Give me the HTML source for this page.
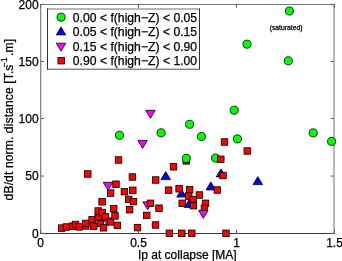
<!DOCTYPE html>
<html><head><meta charset="utf-8"><style>
html,body{margin:0;padding:0;background:#fff;}
svg{display:block;font-family:"Liberation Sans",Arial,sans-serif;}
text{stroke:#000;stroke-width:0.25px;}
</style></head><body>
<svg width="342" height="261" viewBox="0 0 342 261">
<rect width="342" height="261" fill="#fff"/>
<g fill="none" stroke="#606060" stroke-width="1">
<path d="M40 4.5H335" stroke="#777"/><path d="M40 233.5H335" stroke="#3a3a3a"/><path d="M40.75 4V234" stroke="#606060"/><path d="M334.0 4V234" stroke="#777"/>
<path d="M40.50 233.5v-3.6M40.50 4.5v3.4" /><path d="M138.50 233.5v-3.6M138.50 4.5v3.4" /><path d="M236.50 233.5v-3.6M236.50 4.5v3.4" /><path d="M334.50 233.5v-3.6M334.50 4.5v3.4" /><path d="M40.75 233.30h3.2M334.0 233.30h-3.2" /><path d="M40.75 176.10h3.2M334.0 176.10h-3.2" /><path d="M40.75 118.50h3.2M334.0 118.50h-3.2" /><path d="M40.75 61.50h3.2M334.0 61.50h-3.2" /><path d="M40.75 4.40h3.2M334.0 4.40h-3.2" />
</g>
<g stroke="#000" stroke-width="0.8"><rect x="183.05" y="157.65" width="6.5" height="6.5" fill="#f00"/><circle cx="289.40" cy="11.00" r="4.05" fill="#0f0"/><circle cx="247.00" cy="44.20" r="4.05" fill="#0f0"/><circle cx="288.30" cy="60.80" r="4.05" fill="#0f0"/><circle cx="234.20" cy="110.20" r="4.05" fill="#0f0"/><circle cx="189.60" cy="124.30" r="4.05" fill="#0f0"/><circle cx="161.10" cy="132.80" r="4.05" fill="#0f0"/><circle cx="119.50" cy="135.30" r="4.05" fill="#0f0"/><circle cx="201.40" cy="136.50" r="4.05" fill="#0f0"/><circle cx="237.40" cy="138.90" r="4.05" fill="#0f0"/><circle cx="313.20" cy="132.90" r="4.05" fill="#0f0"/><circle cx="331.60" cy="141.40" r="4.05" fill="#0f0"/><circle cx="186.30" cy="158.40" r="4.05" fill="#0f0"/><circle cx="215.60" cy="158.00" r="4.05" fill="#0f0"/><path d="M221.00 168.90L225.75 176.90H216.25Z" fill="#00f"/><path d="M210.80 181.90L215.55 189.90H206.05Z" fill="#00f"/><path d="M165.70 171.60L170.45 179.60H160.95Z" fill="#00f"/><path d="M181.50 189.10L186.25 197.10H176.75Z" fill="#00f"/><path d="M189.10 199.40L193.85 207.40H184.35Z" fill="#00f"/><path d="M257.80 176.60L262.55 184.60H253.05Z" fill="#00f"/><path d="M150.50 118.30L155.25 110.30H145.75Z" fill="#f0f"/><path d="M142.60 148.40L147.35 140.40H137.85Z" fill="#f0f"/><path d="M108.00 190.30L112.75 182.30H103.25Z" fill="#f0f"/><path d="M147.60 209.80L152.35 201.80H142.85Z" fill="#f0f"/><path d="M107.60 225.90L112.35 217.90H102.85Z" fill="#f0f"/><rect x="58.45" y="224.85" width="6.5" height="6.5" fill="#f00"/><rect x="63.15" y="223.75" width="6.5" height="6.5" fill="#f00"/><rect x="69.25" y="222.95" width="6.5" height="6.5" fill="#f00"/><rect x="72.25" y="221.25" width="6.5" height="6.5" fill="#f00"/><rect x="76.05" y="223.65" width="6.5" height="6.5" fill="#f00"/><rect x="82.55" y="222.65" width="6.5" height="6.5" fill="#f00"/><rect x="82.55" y="220.15" width="6.5" height="6.5" fill="#f00"/><rect x="88.85" y="216.55" width="6.5" height="6.5" fill="#f00"/><rect x="90.45" y="222.95" width="6.5" height="6.5" fill="#f00"/><rect x="94.95" y="214.35" width="6.5" height="6.5" fill="#f00"/><rect x="94.95" y="207.75" width="6.5" height="6.5" fill="#f00"/><rect x="97.15" y="220.15" width="6.5" height="6.5" fill="#f00"/><rect x="98.85" y="198.55" width="6.5" height="6.5" fill="#f00"/><rect x="98.85" y="209.25" width="6.5" height="6.5" fill="#f00"/><rect x="100.25" y="224.55" width="6.5" height="6.5" fill="#f00"/><rect x="102.25" y="213.65" width="6.5" height="6.5" fill="#f00"/><rect x="107.35" y="189.85" width="6.5" height="6.5" fill="#f00"/><rect x="107.25" y="218.65" width="6.5" height="6.5" fill="#f00"/><rect x="110.45" y="205.45" width="6.5" height="6.5" fill="#f00"/><rect x="111.75" y="212.65" width="6.5" height="6.5" fill="#f00"/><rect x="114.15" y="222.15" width="6.5" height="6.5" fill="#f00"/><rect x="121.15" y="188.45" width="6.5" height="6.5" fill="#f00"/><rect x="129.55" y="187.05" width="6.5" height="6.5" fill="#f00"/><rect x="125.45" y="196.15" width="6.5" height="6.5" fill="#f00"/><rect x="130.25" y="198.35" width="6.5" height="6.5" fill="#f00"/><rect x="126.35" y="206.45" width="6.5" height="6.5" fill="#f00"/><rect x="134.25" y="224.35" width="6.5" height="6.5" fill="#f00"/><rect x="129.15" y="173.75" width="6.5" height="6.5" fill="#f00"/><rect x="112.75" y="180.95" width="6.5" height="6.5" fill="#f00"/><rect x="115.25" y="156.75" width="6.5" height="6.5" fill="#f00"/><rect x="84.55" y="170.75" width="6.5" height="6.5" fill="#f00"/><rect x="152.45" y="176.75" width="6.5" height="6.5" fill="#f00"/><rect x="165.35" y="186.95" width="6.5" height="6.5" fill="#f00"/><rect x="175.85" y="185.55" width="6.5" height="6.5" fill="#f00"/><rect x="147.25" y="200.05" width="6.5" height="6.5" fill="#f00"/><rect x="155.75" y="204.95" width="6.5" height="6.5" fill="#f00"/><rect x="143.45" y="212.15" width="6.5" height="6.5" fill="#f00"/><rect x="152.25" y="221.75" width="6.5" height="6.5" fill="#f00"/><rect x="166.15" y="230.05" width="6.5" height="6.5" fill="#f00"/><rect x="170.25" y="163.55" width="6.5" height="6.5" fill="#f00"/><rect x="178.55" y="230.05" width="6.5" height="6.5" fill="#f00"/><rect x="188.55" y="230.05" width="6.5" height="6.5" fill="#f00"/><rect x="222.75" y="230.05" width="6.5" height="6.5" fill="#f00"/><rect x="186.35" y="186.35" width="6.5" height="6.5" fill="#f00"/><rect x="185.45" y="192.85" width="6.5" height="6.5" fill="#f00"/><rect x="196.15" y="191.75" width="6.5" height="6.5" fill="#f00"/><rect x="189.85" y="196.35" width="6.5" height="6.5" fill="#f00"/><rect x="178.95" y="200.05" width="6.5" height="6.5" fill="#f00"/><rect x="190.15" y="202.45" width="6.5" height="6.5" fill="#f00"/><rect x="202.25" y="200.05" width="6.5" height="6.5" fill="#f00"/><rect x="201.15" y="205.05" width="6.5" height="6.5" fill="#f00"/><rect x="221.25" y="138.75" width="6.5" height="6.5" fill="#f00"/><rect x="244.05" y="147.75" width="6.5" height="6.5" fill="#f00"/><rect x="217.55" y="156.05" width="6.5" height="6.5" fill="#f00"/><rect x="219.75" y="172.25" width="6.5" height="6.5" fill="#f00"/><rect x="214.05" y="186.75" width="6.5" height="6.5" fill="#f00"/><path d="M203.30 218.40L208.05 210.40H198.55Z" fill="#f0f"/></g>
<text x="286.1" y="30" font-size="6.8" text-anchor="middle">(saturated)</text>
<g font-size="12"><text x="40.50" y="246.6" text-anchor="middle">0</text><text x="138.50" y="246.6" text-anchor="middle">0.5</text><text x="236.50" y="246.6" text-anchor="middle">1</text><text x="334.50" y="246.6" text-anchor="middle">1.5</text><text x="38.6" y="237.60" text-anchor="end">0</text><text x="38.6" y="180.40" text-anchor="end">50</text><text x="38.6" y="122.80" text-anchor="end">100</text><text x="38.6" y="65.80" text-anchor="end">150</text><text x="38.6" y="8.70" text-anchor="end">200</text>
<text x="187.3" y="258.9" text-anchor="middle">Ip at collapse [MA]</text>
<text transform="translate(12.6 119.6) rotate(-90)" text-anchor="middle" font-size="12.13" letter-spacing="0.1">dB/dt norm. distance [T.s<tspan dx="-2.4" dy="-5.6" font-size="8.2" letter-spacing="0">−1</tspan><tspan dx="1.6" dy="5.6">.m]</tspan></text>
</g>
<g font-size="12.2"><rect x="47.5" y="9" width="152" height="60" fill="#fff"/><g fill="none" stroke-width="1"><path d="M47 9H200" stroke="#707070"/><path d="M47 69.2H200" stroke="#505050"/><path d="M47.5 8.5V69.5" stroke="#333"/><path d="M199.5 8.5V69.5" stroke="#333"/></g><g stroke="#000" stroke-width="0.8"><circle cx="61.10" cy="17.20" r="4.05" fill="#0f0"/><path d="M61.00 26.90L65.75 34.90H56.25Z" fill="#00f"/><path d="M61.00 51.20L65.75 43.20H56.25Z" fill="#f0f"/><rect x="57.95" y="57.45" width="6.5" height="6.5" fill="#f00"/></g><text x="72.8" y="21.70">0.00 &lt; f(high−Z) &lt; 0.05</text><text x="72.8" y="35.80">0.05 &lt; f(high−Z) &lt; 0.15</text><text x="72.8" y="50.90">0.15 &lt; f(high−Z) &lt; 0.90</text><text x="72.8" y="65.10">0.90 &lt; f(high−Z) &lt; 1.00</text></g>
</svg>
</body></html>
